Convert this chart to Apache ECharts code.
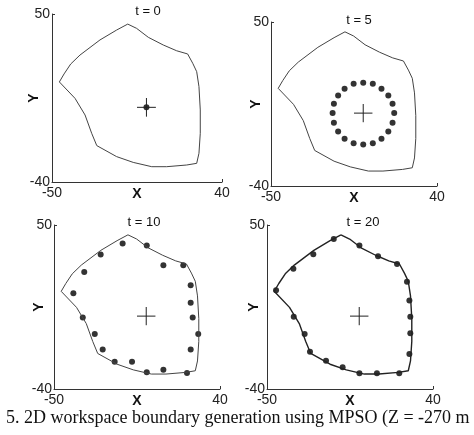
<!DOCTYPE html>
<html>
<head>
<meta charset="utf-8">
<script src="https://cdn.jsdelivr.net/npm/echarts@6/dist/echarts.min.js"></script>
<style>
html, body { margin: 0; padding: 0; background: #fff; }
#main { width: 474px; height: 435px; }
</style>
</head>
<body>
<div id="main"></div>
<script>
// workspace boundary (same for all four frames)
const boundaryX = [-9.9, -5.2, 1, 8.9, 16, 21.8, 24.5, 26.6, 27.8, 28.5, 28.5, 27.8, 26.6, 21.3, 10.7, 2.8, -7, -15.8, -26.3, -29, -32.5, -37.8, -46.1, -43.6, -40.1, -35.2, -24.6, -15.8, -9.9];
const boundaryY = [44.6, 42.3, 37.5, 33.4, 30.3, 28.6, 23.6, 19.1, 11.1, -1.4, -13.9, -24.6, -30, -30.9, -31.8, -31.8, -29.5, -26.4, -20.5, -13.9, -4.1, 4.8, 13.6, 17.9, 23.2, 28, 36.1, 41.4, 44.6];

// particles at each time step
const t0X = [0];
const t0Y = [0];
const t5X = [0, 5.2, 9.9, 13.6, 15.9, 16.8, 15.9, 13.6, 9.9, 5.2, 0, -5.2, -10.1, -13.6, -15.9, -16.6, -15.9, -13.6, -10.1, -5.2];
const t5Y = [16.6, 16.1, 13.4, 9.7, 5.1, 0, -5.3, -10.1, -14.1, -16.5, -17.2, -16.5, -14.1, -10.1, -5.3, 0, 5.1, 9.7, 13.4, 16.1];
const t10X = [-12.8, 0.3, -24.7, 9.3, 20.1, -33.6, 24.1, -39.5, 24.1, -34.4, 25.2, -27.9, 28.2, -23.6, 24.1, -17.1, -7.7, 9.3, 0.3, 22.1];
const t10Y = [39.9, 38.8, 33.8, 27.9, 27.9, 24.2, 16.9, 12.6, 7.3, -0.8, -0.8, -9.8, -9.8, -18.3, -18.3, -25.1, -25.1, -29.5, -30.8, -31.2];
const t20X = [-13.8, 0.1, -24.9, 10.2, -35.7, 20.5, 25.9, -45.1, 27.2, -35.5, 27.7, -29.6, 27.7, -26.7, 27.2, -18, -9, 0.1, 9.6, 21.7];
const t20Y = [42.3, 38.7, 33.9, 32.8, 26, 28.6, 18.9, 14.2, 8.5, -0.3, -0.3, -9.8, -9.4, -19.5, -20.8, -24.5, -28.1, -31.4, -31.4, -31.4];

// centre cross
const crossArm = [-5, 5];

const panelTitles = ['t = 0', 't = 5', 't = 10', 't = 20'];
const caption = '5. 2D workspace boundary generation using MPSO (Z = -270 m';

const pairs = (xs, ys) => xs.map((x, i) => [x, ys[i]]);
const swarms = [pairs(t0X, t0Y), pairs(t5X, t5Y), pairs(t10X, t10Y), pairs(t20X, t20Y)];
const boundary = pairs(boundaryX, boundaryY);

const font = 'Liberation Sans, Arial, sans-serif';
const grids = [
  { left: 52, top: 14, width: 170, height: 168 },
  { left: 271, top: 22, width: 166, height: 164 },
  { left: 54, top: 225, width: 166, height: 164 },
  { left: 267, top: 225, width: 166, height: 164 }
];
const titlePos = [[143, 0], [354, 9], [139, 211], [358, 211]];
const yNameGap = [11, 8, 8, 6];

const axisCommon = {
  axisLine: { onZero: false, lineStyle: { color: '#333', width: 1 } },
  axisTick: { inside: true, length: 3, lineStyle: { color: '#333' } },
  splitLine: { show: false },
  axisLabel: { color: '#222', fontSize: 14, fontFamily: font },
  nameMoveOverlap: false,
  nameTextStyle: { color: '#111', fontSize: 14, fontWeight: 'bold', fontFamily: font }
};

const series = [];
grids.forEach((g, i) => {
  series.push({
    type: 'line', xAxisIndex: i, yAxisIndex: i, data: boundary,
    symbol: 'none', lineStyle: { color: i === 3 ? '#222' : '#444', width: i === 3 ? 1.4 : 1 },
    silent: true
  });
  series.push({
    type: 'line', xAxisIndex: i, yAxisIndex: i, data: crossArm.map(v => [v, 0]),
    symbol: 'none', lineStyle: { color: '#222', width: 1 }, silent: true
  });
  series.push({
    type: 'line', xAxisIndex: i, yAxisIndex: i, data: crossArm.map(v => [0, v]),
    symbol: 'none', lineStyle: { color: '#222', width: 1 }, silent: true
  });
  series.push({
    type: 'scatter', xAxisIndex: i, yAxisIndex: i, data: swarms[i],
    symbol: 'circle', symbolSize: 6, itemStyle: { color: '#000' }, silent: true
  });
});

const option = {
  animation: false,
  backgroundColor: '#fff',
  title: panelTitles.map((t, i) => ({
    text: t, left: titlePos[i][0], top: titlePos[i][1], textAlign: 'center',
    textStyle: { fontSize: 13, fontWeight: 'normal', color: '#111', fontFamily: font }
  })).concat([{
    text: caption, left: 1, top: 404,
    textStyle: { fontSize: 18, fontWeight: 'normal', color: '#111', fontFamily: 'Liberation Serif, Times New Roman, serif' }
  }]),
  grid: grids,
  xAxis: grids.map((g, i) => Object.assign({}, axisCommon, {
    type: 'value', gridIndex: i, min: -50, max: 40, interval: 90,
    name: 'X', nameLocation: 'middle', nameGap: 5,
    axisLabel: Object.assign({}, axisCommon.axisLabel, { margin: 4 })
  })),
  yAxis: grids.map((g, i) => Object.assign({}, axisCommon, {
    type: 'value', gridIndex: i, min: -40, max: 50, interval: 90,
    name: 'Y', nameLocation: 'middle', nameGap: yNameGap[i], nameRotate: 90,
    axisLabel: Object.assign({}, axisCommon.axisLabel, { margin: 2 })
  })),
  series: series
};

const chart = echarts.init(document.getElementById('main'));
chart.setOption(option);
</script>
</body>
</html>
